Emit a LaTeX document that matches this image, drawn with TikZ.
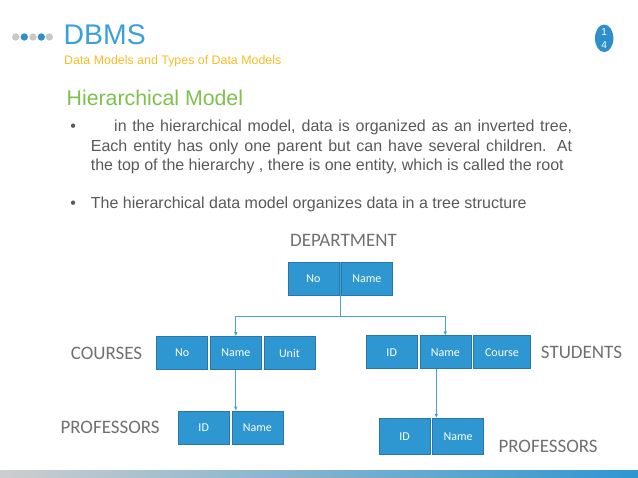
\documentclass[tikz,border=0pt]{standalone}
\usepackage{fontspec}
\setmainfont{Liberation Sans}
\newfontfamily\carlito{Carlito}
\usetikzlibrary{positioning,calc,arrows.meta,shapes.geometric}

\definecolor{headblue}{RGB}{58,160,216}
\definecolor{subyellow}{RGB}{247,189,36}
\definecolor{titlegreen}{RGB}{125,192,76}
\definecolor{bodygrey}{RGB}{89,89,89}
\definecolor{labelgrey}{RGB}{112,112,112}
\definecolor{boxblue}{RGB}{46,150,209}
\definecolor{boxline}{RGB}{40,118,170}
\definecolor{linkblue}{RGB}{74,163,214}
\definecolor{dotgrey}{RGB}{200,200,200}
\definecolor{dotblue}{RGB}{46,143,204}

\begin{document}
\begin{tikzpicture}[x=1pt, y=-1pt,
  field/.style={draw=boxline, fill=boxblue, text=white, line width=0.6pt,
    font=\carlito\fontsize{12}{14}\selectfont, minimum width=51pt, minimum height=33pt, inner sep=0pt},
  tablename/.style={text=labelgrey, font=\carlito\fontsize{19}{22}\selectfont, inner sep=0pt},
  bodytext/.style={text=bodygrey, font=\fontsize{16}{19.5}\selectfont, inner sep=0pt},
  link/.style={draw=linkblue, line width=1pt},
  arrowlink/.style={link, -{Latex[length=4pt,width=3.6pt]}}]
  \useasboundingbox (0,0) rectangle (638,478);

  \fill[dotgrey] (15.7,37) circle (3.7);
  \fill[dotblue] (24.3,37) circle (3.7);
  \fill[dotgrey] (33,37) circle (3.7);
  \fill[dotblue] (41.3,37) circle (3.7);
  \fill[dotgrey] (49.3,37) circle (3.7);
  \node[anchor=base west, inner sep=0pt, text=headblue, font=\fontsize{28.4}{30}\selectfont] (head) at (63.5,45) {DBMS};
  \node[anchor=base west, inner sep=0pt, text=subyellow, font=\fontsize{12.4}{14}\selectfont] (subhead) at (64,64.3) {Data Models and Types of Data Models};
  \node[ellipse, fill=dotblue, text=white, minimum width=18.4pt, minimum height=23.4pt, inner sep=0pt,
    align=center, font=\fontsize{10}{12.6}\selectfont] (page) at (604.2,38.3) {1\\4};

  \node[anchor=base west, inner sep=0pt, text=titlegreen, font=\fontsize{21.3}{24}\selectfont] (title) at (66.5,105.7) {Hierarchical Model};
  \node[bodytext, anchor=base] (dotone) at (73.3,132) {•};
  \node[bodytext, anchor=base west] (lineone) at (114,132) {\makebox[458pt][s]{in the hierarchical model, data is organized as an inverted tree,}};
  \node[bodytext, anchor=base west] (linetwo) at (90.7,151.5) {\makebox[481.3pt][s]{Each entity has only one parent but can have several children. At}};
  \node[bodytext, anchor=base west] (linethree) at (90.7,171) {the top of the hierarchy , there is one entity, which is called the root};
  \node[bodytext, anchor=base] (dottwo) at (73.3,209) {•};
  \node[bodytext, anchor=base west] (linefour) at (90.7,209) {The hierarchical data model organizes data in a tree structure};

  \node[field] (dno) at (313.3,279) {No};
  \node[field, right=2pt of dno] (dname) {Name};
  \node[tablename] (dept) at (343.5,240) {DEPARTMENT};

  \node[field] (cno) at (182.2,353) {No};
  \node[field, right=2pt of cno] (cname) {Name};
  \node[field, right=2pt of cname] (cunit) {Unit};
  \node[tablename, left=14pt of cno] (courses) {COURSES};

  \node[field] (sid) at (391.7,352.3) {ID};
  \node[field, right=2pt of sid] (sname) {Name};
  \node[field, minimum width=57pt, right=2pt of sname] (scourse) {Course};
  \node[tablename, right=10pt of scourse] (students) {STUDENTS};

  \node[field] (pid) at (203.7,427.5) {ID};
  \node[field, right=2pt of pid] (pname) {Name};
  \node[tablename, left=18pt of pid] (profleft) {PROFESSORS};

  \node[field, minimum height=36pt] (qid) at (404.5,436.3) {ID};
  \node[field, minimum height=36pt, right=2pt of qid] (qname) {Name};
  \node[tablename, anchor=west] (profright) at (498.3,446.7) {PROFESSORS};

  \coordinate (split) at ($(dno.south east)!0.5!(dname.south west) + (0,20.5)$);
  \draw[link] ($(dno.north east)!0.5!(dname.north west)$) -- (split);
  \draw[arrowlink] (split) -| (cname.north);
  \draw[arrowlink] (split) -| (sname.north);
  \draw[arrowlink] (cname.south) -- (cname.south |- pname.north);
  \draw[arrowlink] ([xshift=-9pt]sname.south) -- ([xshift=-9pt]sname.south |- qname.north);

  \shade[left color=dotgrey!90!white, middle color=boxblue!45!dotgrey, right color=boxblue] (0,471) rectangle (638,478);
\end{tikzpicture}
\end{document}
